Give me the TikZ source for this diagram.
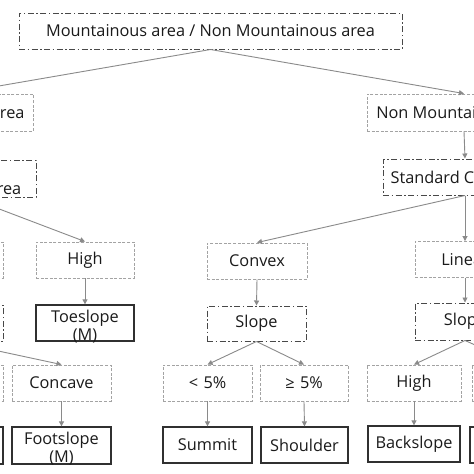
\documentclass[tikz,border=0pt]{standalone}
\usepackage{fontspec}
\setmainfont{Open Sans}
\usetikzlibrary{arrows.meta}
\definecolor{gborder}{HTML}{A3A3A3}
\definecolor{garrow}{HTML}{8A8A8A}
\definecolor{dborder}{HTML}{484848}
\definecolor{sborder}{HTML}{303030}
\definecolor{txt}{HTML}{1A1A1A}
\tikzset{
  box/.style={inner sep=0pt, minimum height=36pt, align=center, text=txt},
  gbox/.style={box, draw=gborder, line width=0.9pt, dash pattern=on 3pt off 1.6pt},
  dbox/.style={box, draw=dborder, line width=1pt, dash pattern=on 6pt off 2.5pt on 1.5pt off 2.5pt},
  sbox/.style={box, draw=sborder, line width=1.3pt},
  twoline/.style={inner sep=0pt, align=center, text=txt, font=\fontsize{16.3}{18}\selectfont},
  conn/.style={draw=garrow, line width=0.9pt, -{Triangle[length=5pt,width=5pt]}},
}
\begin{document}
\begin{tikzpicture}[x=1pt,y=-1pt,font=\fontsize{16.3}{20}\selectfont]
\useasboundingbox (0,0) rectangle (474,474);
\fill[white] (0,0) rectangle (474,474);
\clip (0,0) rectangle (474,474);
% top
\node[dbox, minimum width=383pt] (top) at (210.5,31) {Mountainous area / Non Mountainous area};
% left column
\node[gbox, minimum width=156pt, minimum height=37pt] (ma) at (-45,112.5) {Mountainous area};
\node[dbox, minimum width=134pt, minimum height=37pt] (ma2) at (-31,178.5) {};
\node[inner sep=0pt, anchor=east, text=txt] (ma2t) at (21.5,190) {area};
\node[gbox, minimum width=98pt] (l3) at (-46,260) {};
\node[dbox, minimum width=98pt] (l4) at (-46,323) {};
\node[gbox, minimum width=98pt] (l5) at (-46,383) {};
\node[sbox, minimum width=98pt, minimum height=37pt] (l6) at (-46,445.5) {};
\node[gbox, minimum width=98pt] (high) at (85,260) {High};
\node[sbox, minimum width=98pt] (toe) at (85,323) {};
\node[twoline] (toet) at (85,327) {Toeslope\\(M)};
\node[gbox, minimum width=99pt] (concave) at (61.5,383) {Concave};
\node[sbox, minimum width=99pt, minimum height=37pt] (foot) at (61.5,445.5) {};
\node[twoline] (foott) at (61.5,449) {Footslope\\(M)};
% middle column
\node[gbox, minimum width=100pt] (convex) at (257,261) {Convex};
\node[dbox, minimum width=99pt, minimum height=35pt] (slope) at (256.5,323.5) {Slope};
\node[gbox, minimum width=89pt] (lt5) at (207.5,383) {<\,\,5\%};
\node[gbox, minimum width=88pt] (ge5) at (304,383) {≥\,\,5\%};
\node[sbox, minimum width=89pt] (summit) at (207.5,445) {Summit};
\node[sbox, minimum width=87pt] (shoulder) at (304.5,445) {Shoulder};
% right column
\node[gbox, minimum width=194pt, minimum height=37pt] (nma) at (464,112.5) {Non Mountainous area};
\node[dbox, minimum width=164pt] (std) at (465,177) {Standard Curvature};
\node[gbox, minimum width=100pt] (line) at (465,259.5) {Linear};
\node[dbox, minimum width=100pt, minimum height=37pt] (sloper) at (465,321.5) {Slope};
\node[gbox, minimum width=94pt] (highr) at (414,383) {High};
\node[gbox, minimum width=94pt] (r5) at (519,383) {};
\node[sbox, minimum width=92pt] (back) at (414,444) {Backslope};
\node[sbox, minimum width=98pt, line width=2pt] (r6) at (519,445) {};
% connectors
\draw[conn] (top.south) -- (ma.north);
\draw[conn] (top.south) -- (nma.north);
\draw[conn] (ma.south) -- (ma2.north);
\draw[conn] (ma2.south) -- (l3.north);
\draw[conn] (ma2.south) -- (high.north);
\draw[conn] (high.south) -- (toe.north);
\draw[conn] (l3.south) -- (l4.north);
\draw[conn] (l4.south) -- (l5.north);
\draw[conn] (l4.south) -- (concave.north);
\draw[conn] (l5.south) -- (l6.north);
\draw[conn] (concave.south) -- (foot.north);
\draw[conn] (nma.south) -- (std.north);
\draw[conn] (std.south) -- (convex.north);
\draw[conn] (std.south) -- (line.north);
\draw[conn] (convex.south) -- (slope.north);
\draw[conn] (slope.south) -- (lt5.north);
\draw[conn] (slope.south) -- (ge5.north);
\draw[conn] (lt5.south) -- (summit.north);
\draw[conn] (ge5.south) -- (shoulder.north);
\draw[conn] (line.south) -- (sloper.north);
\draw[conn] (sloper.south) -- (highr.north);
\draw[conn] (sloper.south) -- (r5.north);
\draw[conn] (highr.south) -- (back.north);
\draw[conn] (r5.south) -- (r6.north);
\end{tikzpicture}
\end{document}
